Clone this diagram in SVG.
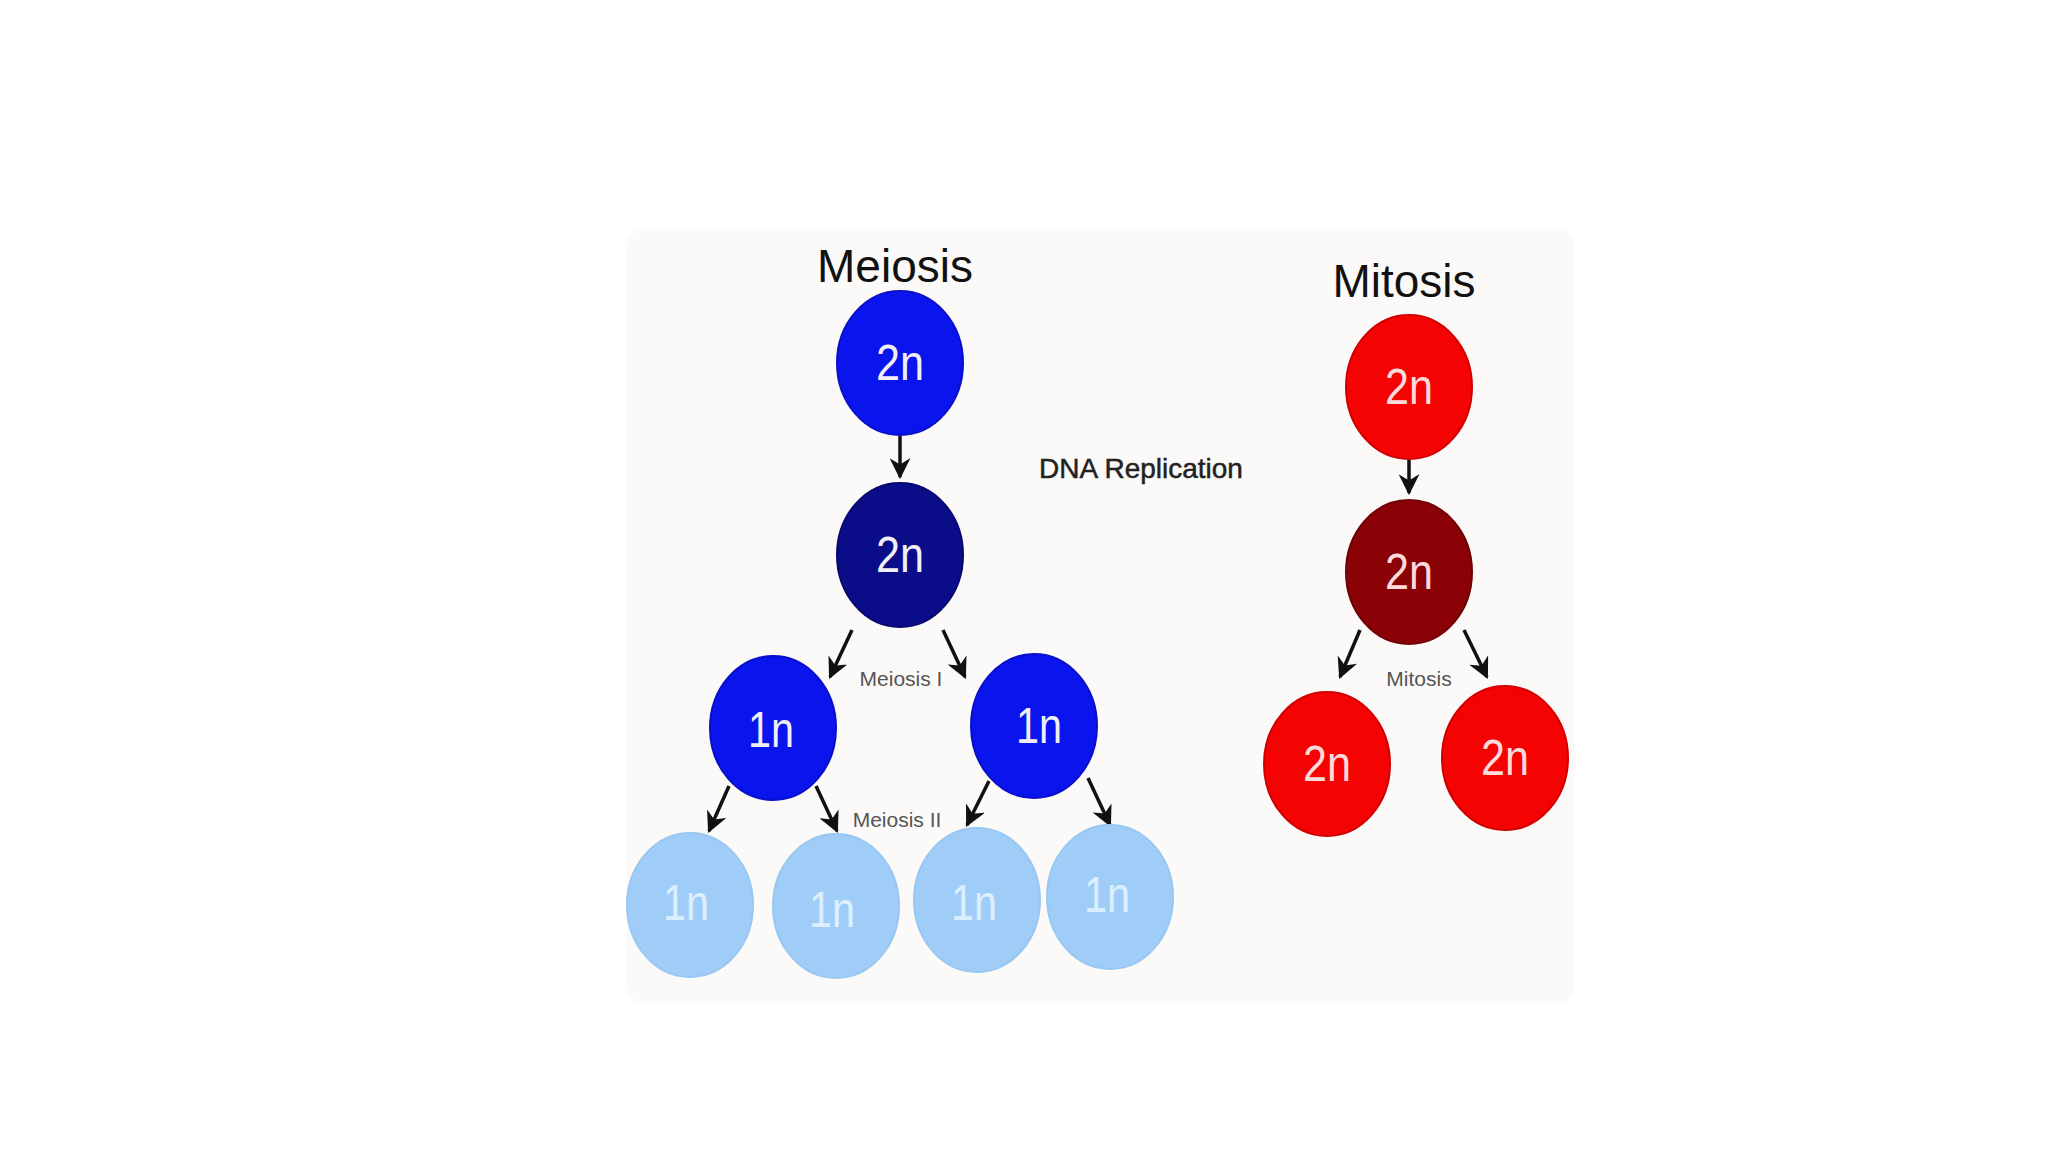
<svg xmlns="http://www.w3.org/2000/svg" width="2048" height="1152" viewBox="0 0 2048 1152">
  <defs>
    <marker id="ah" viewBox="0 0 10 10" refX="9" refY="5" markerWidth="6" markerHeight="6" markerUnits="strokeWidth" orient="auto">
      <path d="M0,0 L10,5 L0,10 L3,5 Z" fill="#111"/>
    </marker>
    <style>
      .title { font-family: "Liberation Sans", Arial, sans-serif; font-size: 46px; fill: #111; text-anchor: middle; }
      .lbl { font-family: "Liberation Sans", Arial, sans-serif; font-size: 28px; fill: #222; text-anchor: middle; stroke: #222; stroke-width: 0.5; }
      .small { font-family: "Liberation Sans", Arial, sans-serif; font-size: 21px; fill: #555; text-anchor: middle; }
      .ntext { font-family: "Liberation Sans", Arial, sans-serif; font-size: 50px; text-anchor: middle; }
      .blue { fill: #0a14ec; stroke: #0a0fc8; stroke-width: 2; }
      .navy { fill: #0a0c88; stroke: #080870; stroke-width: 2; }
      .light { fill: #9fcdf8; stroke: #98c8f2; stroke-width: 2; }
      .red { fill: #f50303; stroke: #d00000; stroke-width: 2; }
      .dred { fill: #8a0205; stroke: #700004; stroke-width: 2; }
      .wt { fill: #f2eef8; }
      .pt { fill: #fadada; }
      .lt { fill: #dcefff; }
      .conn line { stroke: #111; stroke-width: 3.5; marker-end: url(#ah); }
    </style>
  </defs>
  <rect width="2048" height="1152" fill="#ffffff"/>
  <rect x="627" y="229" width="948" height="774" rx="16" fill="#fcfaf8"/>

  <text class="title" x="895" y="282">Meiosis</text>
  <text class="title" x="1404" y="297">Mitosis</text>
  <text class="lbl" x="1141" y="478">DNA Replication</text>
  <text class="small" x="901" y="686">Meiosis I</text>
  <text class="small" x="897" y="827">Meiosis II</text>
  <text class="small" x="1419" y="686">Mitosis</text>

  <g id="connectors" class="conn">
    <line x1="900" y1="436" x2="900" y2="477"/>
    <line x1="852" y1="630" x2="830" y2="677"/>
    <line x1="943" y1="630" x2="965" y2="677"/>
    <line x1="729" y1="786" x2="709" y2="831"/>
    <line x1="816" y1="786" x2="837" y2="831"/>
    <line x1="989" y1="781" x2="967" y2="825"/>
    <line x1="1088" y1="778" x2="1110" y2="825"/>
    <line x1="1409" y1="460" x2="1409" y2="493"/>
    <line x1="1360" y1="630" x2="1340" y2="677"/>
    <line x1="1464" y1="630" x2="1487" y2="677"/>
  </g>

  <g id="meiosis-2n-top">
    <ellipse class="blue" cx="900" cy="363" rx="63" ry="72"/>
    <text class="ntext wt" x="900" y="380" textLength="48" lengthAdjust="spacingAndGlyphs">2n</text>
  </g>
  <g id="meiosis-2n-replicated">
    <ellipse class="navy" cx="900" cy="555" rx="63" ry="72"/>
    <text class="ntext wt" x="900" y="572" textLength="48" lengthAdjust="spacingAndGlyphs">2n</text>
  </g>
  <g id="meiosis-1n-left">
    <ellipse class="blue" cx="773" cy="728" rx="63" ry="72"/>
    <text class="ntext wt" x="771" y="747" textLength="46" lengthAdjust="spacingAndGlyphs">1n</text>
  </g>
  <g id="meiosis-1n-right">
    <ellipse class="blue" cx="1034" cy="726" rx="63" ry="72"/>
    <text class="ntext wt" x="1039" y="743" textLength="46" lengthAdjust="spacingAndGlyphs">1n</text>
  </g>
  <g id="gamete-1">
    <ellipse class="light" cx="690" cy="905" rx="63" ry="72"/>
    <text class="ntext lt" x="686" y="920" textLength="46" lengthAdjust="spacingAndGlyphs">1n</text>
  </g>
  <g id="gamete-2">
    <ellipse class="light" cx="836" cy="906" rx="63" ry="72"/>
    <text class="ntext lt" x="832" y="927" textLength="46" lengthAdjust="spacingAndGlyphs">1n</text>
  </g>
  <g id="gamete-3">
    <ellipse class="light" cx="977" cy="900" rx="63" ry="72"/>
    <text class="ntext lt" x="974" y="920" textLength="46" lengthAdjust="spacingAndGlyphs">1n</text>
  </g>
  <g id="gamete-4">
    <ellipse class="light" cx="1110" cy="897" rx="63" ry="72"/>
    <text class="ntext lt" x="1107" y="912" textLength="46" lengthAdjust="spacingAndGlyphs">1n</text>
  </g>

  <g id="mitosis-2n-top">
    <ellipse class="red" cx="1409" cy="387" rx="63" ry="72"/>
    <text class="ntext pt" x="1409" y="404" textLength="48" lengthAdjust="spacingAndGlyphs">2n</text>
  </g>
  <g id="mitosis-2n-replicated">
    <ellipse class="dred" cx="1409" cy="572" rx="63" ry="72"/>
    <text class="ntext pt" x="1409" y="589" textLength="48" lengthAdjust="spacingAndGlyphs">2n</text>
  </g>
  <g id="mitosis-2n-left">
    <ellipse class="red" cx="1327" cy="764" rx="63" ry="72"/>
    <text class="ntext pt" x="1327" y="781" textLength="48" lengthAdjust="spacingAndGlyphs">2n</text>
  </g>
  <g id="mitosis-2n-right">
    <ellipse class="red" cx="1505" cy="758" rx="63" ry="72"/>
    <text class="ntext pt" x="1505" y="775" textLength="48" lengthAdjust="spacingAndGlyphs">2n</text>
  </g>
</svg>
